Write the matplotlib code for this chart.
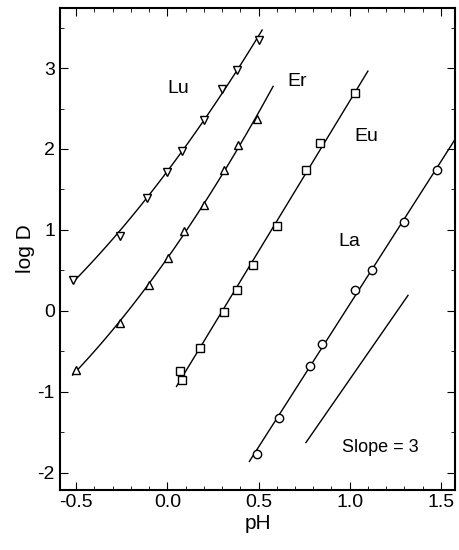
import numpy as np
import matplotlib.pyplot as plt

plt.rcParams['font.family'] = ['Liberation Sans', 'DejaVu Sans']
plt.rcParams['axes.unicode_minus'] = False

lu_x = [-0.52, -0.26, -0.11, 0.0, 0.08, 0.20, 0.30, 0.38, 0.50]
lu_y = [0.38, 0.93, 1.40, 1.72, 1.98, 2.36, 2.74, 2.98, 3.35]
er_x = [-0.50, -0.26, -0.10, 0.005, 0.09, 0.20, 0.31, 0.39, 0.49]
er_y = [-0.73, -0.15, 0.32, 0.65, 0.98, 1.31, 1.74, 2.05, 2.37]
eu_x = [0.07, 0.08, 0.18, 0.31, 0.38, 0.47, 0.60, 0.76, 0.84, 1.03]
eu_y = [-0.75, -0.85, -0.46, -0.01, 0.26, 0.57, 1.05, 1.74, 2.07, 2.69]
la_x = [0.49, 0.61, 0.78, 0.85, 1.03, 1.12, 1.30, 1.48]
la_y = [-1.77, -1.32, -0.68, -0.41, 0.26, 0.51, 1.10, 1.74]
slope_x = [0.76, 1.32]
slope_y = [-1.63, 0.19]

fig = plt.figure(figsize=(4.6, 5.5), dpi=100)
ax = fig.add_axes([0.13, 0.11, 0.86, 0.875])

def fit(x, y, deg, x0, x1):
    p = np.polyfit(x, y, deg)
    xx = np.linspace(x0, x1, 100)
    ax.plot(xx, np.polyval(p, xx), color='black', lw=1)

fit(lu_x, lu_y, 2, -0.52, 0.52)
fit(er_x, er_y, 2, -0.52, 0.58)
fit(eu_x, eu_y, 1, 0.05, 1.10)
fit(la_x, la_y, 1, 0.45, 1.60)
ax.plot(slope_x, slope_y, color='black', lw=1)

kw = dict(mfc='white', mec='black', ms=6, ls='none', mew=1)
ax.plot(lu_x, lu_y, marker='v', **kw)
ax.plot(er_x, er_y, marker='^', **kw)
ax.plot(eu_x, eu_y, marker='s', **kw)
ax.plot(la_x, la_y, marker='o', **kw)

fs = 14
ax.text(0.06, 2.75, 'Lu', fontsize=fs, ha='center', va='center')
ax.text(0.71, 2.83, 'Er', fontsize=fs, ha='center', va='center')
ax.text(1.09, 2.15, 'Eu', fontsize=fs, ha='center', va='center')
ax.text(1.0, 0.86, 'La', fontsize=fs, ha='center', va='center')
ax.text(1.17, -1.69, 'Slope = 3', fontsize=13, ha='center', va='center')

ax.set_xlim(-0.59, 1.58)
ax.set_ylim(-2.21, 3.74)
ax.set_xticks([-0.5, 0.0, 0.5, 1.0, 1.5])
ax.set_xticklabels(['-0.5', '0.0', '0.5', '1.0', '1.5'])
ax.set_yticks([-2, -1, 0, 1, 2, 3])
ax.set_yticks(np.arange(-2, 3.75, 0.5), minor=True)
ax.set_xticks(np.arange(-0.5, 1.6, 0.1), minor=True)
ax.tick_params(direction='in', which='both', top=True, right=True, labelsize=14)
ax.tick_params(which='major', length=6)
ax.tick_params(which='minor', length=3)
for s in ax.spines.values():
    s.set_linewidth(1.5)
ax.set_xlabel('pH', fontsize=15, labelpad=2)
ax.set_ylabel('log D', fontsize=15, labelpad=2)
fig.savefig('out.png')
